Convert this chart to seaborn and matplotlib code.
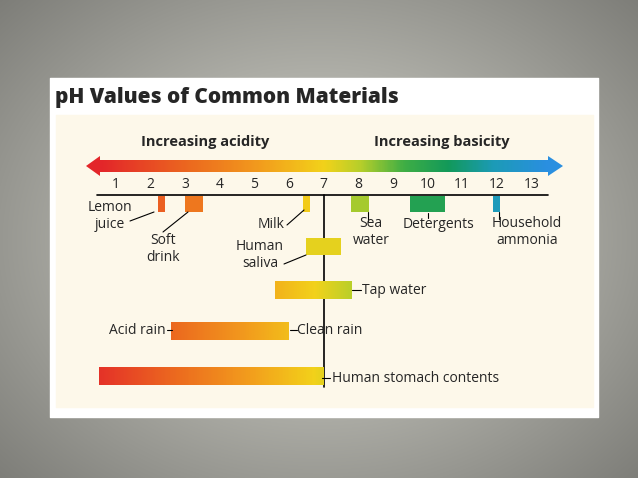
import numpy as np
import matplotlib
matplotlib.use("Agg")
import matplotlib.pyplot as plt
import seaborn as sns
from matplotlib.colors import LinearSegmentedColormap

sns.set_style("white")
plt.rcParams['font.family'] = ['Open Sans', 'DejaVu Sans']

ph_ticks = list(range(1, 14))
materials = ["Lemon juice", "Soft drink", "Milk", "Sea water", "Detergents", "Household ammonia",
             "Human saliva", "Tap water", "Acid rain", "Human stomach contents"]
ph_low = [2.2, 3.0, 6.4, 7.8, 9.5, 11.9, 6.5, 5.6, 2.6, 0.5]
ph_high = [2.4, 3.5, 6.6, 8.3, 10.5, 12.1, 7.5, 7.8, 6.0, 7.0]
gradient = [False, False, False, False, False, False, False, True, True, True]

cmap = LinearSegmentedColormap.from_list("ph", [(0, "#e3262a"), (0.2, "#ec6a1f"), (0.35, "#f29a1d"),
    (0.5, "#f2d21a"), (0.58, "#b8cf2a"), (0.68, "#3fae45"), (0.78, "#12995a"), (0.88, "#1c9bb6"), (1, "#2a8fe0")])
def c(ph): return cmap(ph / 13.5)

fig = plt.figure(figsize=(6.38, 4.78), dpi=100)
ax = fig.add_axes([0, 0, 1, 1])
x0, s = 81.5, 34.6
P = lambda px: (px - x0) / s
ax.set_xlim(P(0), P(638)); ax.set_ylim(478, 0); ax.axis("off")

yy, xx = np.mgrid[0:478, 0:638]
r = np.sqrt(((xx - 319) / 420) ** 2 + ((yy - 239) / 330) ** 2)
bg = np.clip(0.86 - 0.35 * r, 0, 1)
ax.imshow(np.dstack([bg, bg, bg * 0.96]), extent=(P(0), P(638), 478, 0), aspect="auto", zorder=0)
ax.fill_between([P(50), P(598)], 78, 417, color="white", zorder=1)
ax.fill_between([P(56), P(593)], 115, 407, color="#fdf8ea", zorder=1)
ax.text(P(55), 97, "pH Values of Common Materials", fontsize=15, fontweight="heavy", va="center", zorder=5)

grad = np.linspace(0, 13.5, 300)[None, :]
ax.imshow(grad, cmap=cmap, vmin=0, vmax=13.5, extent=(P(100), P(548), 172, 160), aspect="auto", zorder=3)
ax.fill([P(100), P(86), P(100)], [156, 166, 176], color=c(0), zorder=3, lw=0)
ax.fill([P(548), P(563), P(548)], [156, 166, 176], color=c(13.5), zorder=3, lw=0)
ax.text(P(205), 142, "Increasing acidity", fontsize=10.5, fontweight="bold", ha="center", va="center", zorder=5)
ax.text(P(442), 142, "Increasing basicity", fontsize=10.5, fontweight="bold", ha="center", va="center", zorder=5)

ax.plot([P(97), P(548)], [195, 195], color="black", lw=1.2, zorder=4)
for t in ph_ticks:
    ax.text(t, 185, str(t), fontsize=10, ha="center", va="center", zorder=5)
ax.plot([7, 7], [195, 387], color="black", lw=1.2, zorder=2)

rows = {"Lemon juice": (196, 212), "Soft drink": (196, 212), "Milk": (196, 212), "Sea water": (196, 212),
        "Detergents": (196, 212), "Household ammonia": (196, 212), "Human saliva": (238, 255),
        "Tap water": (281, 299), "Acid rain": (322, 340), "Human stomach contents": (367, 385)}
for m, lo, hi, g in zip(materials, ph_low, ph_high, gradient):
    y1, y2 = rows[m]
    if g:
        seg = np.linspace(lo, hi, 200)[None, :]
        ax.imshow(seg, cmap=cmap, vmin=0, vmax=13.5, extent=(lo, hi, y2, y1), aspect="auto", zorder=3)
    else:
        ax.fill_between([lo, hi], y1, y2, color=c((lo + hi) / 2), zorder=3, lw=0)

fs = 10
def lab(x, y, t, ha="center"):
    ax.text(x, y, t, fontsize=fs, ha=ha, va="center", zorder=5, linespacing=1.1)
def ln(xs, ys):
    ax.plot(xs, ys, color="black", lw=0.8, zorder=4)
lab(P(110), 216, "Lemon\njuice"); ln([P(130), P(154)], [221, 212])
lab(P(163), 249, "Soft\ndrink"); ln([P(163), P(188)], [232, 212])
lab(P(271), 224, "Milk"); ln([P(287), P(304)], [225, 210])
lab(P(371), 232, "Sea\nwater"); ln([P(368), P(368)], [222, 212])
lab(P(439), 224, "Detergents"); ln([P(428), P(428)], [213, 218])
lab(P(527), 232, "Household\nammonia"); ln([P(499), P(499)], [212, 219])
lab(P(260), 255, "Human\nsaliva"); ln([P(284), P(306)], [264, 255])
lab(P(362), 290, "Tap water", ha="left"); ln([P(352), P(361)], [290, 290])
lab(P(166), 330, "Acid rain", ha="right"); ln([P(167), P(172)], [330, 330])
lab(P(297), 331, "Clean rain", ha="left"); ln([P(290), P(297)], [330, 330])
lab(P(332), 378, "Human stomach contents", ha="left"); ln([P(322), P(330)], [378, 378])

fig.savefig("out.png", dpi=100)
